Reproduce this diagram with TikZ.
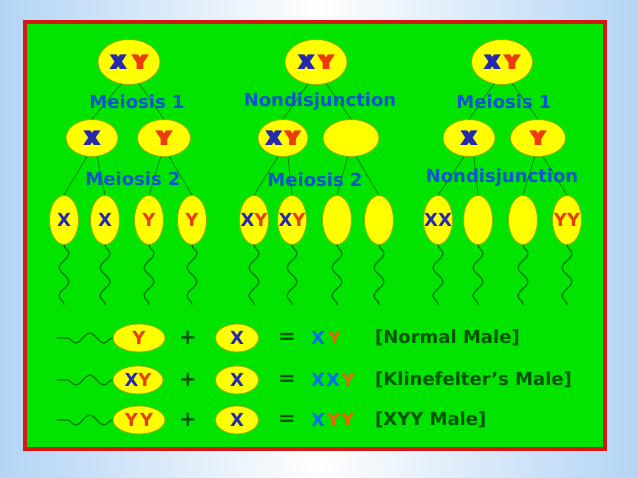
\documentclass[tikz,border=0pt]{standalone}
\usepackage{fontspec}
\setsansfont{DejaVu Sans}
\usetikzlibrary{shapes.geometric,decorations.pathmorphing}
\definecolor{slidegreen}{RGB}{0,228,0}
\definecolor{cellyellow}{RGB}{255,255,0}
\definecolor{celledge}{RGB}{150,170,0}
\definecolor{framered}{RGB}{210,25,20}
\definecolor{stageblue}{RGB}{15,85,205}
\definecolor{chromblue}{RGB}{40,40,175}
\definecolor{chromred}{RGB}{235,60,10}
\definecolor{sumblue}{RGB}{0,110,235}
\definecolor{sumred}{RGB}{235,100,0}
\definecolor{notegreen}{RGB}{0,85,0}
\definecolor{linkgreen}{RGB}{0,125,0}
\definecolor{skyblue}{RGB}{180,212,245}
% single and doubled chromosomes
\newcommand{\cX}{\textcolor{chromblue}{X}}
\newcommand{\cY}{\textcolor{chromred}{Y}}
\newcommand{\dX}{\textcolor{chromblue}{\rlap{X}\kern3pt X}}
\newcommand{\dY}{\textcolor{chromred}{\rlap{Y}\kern3pt Y}}
\begin{document}
\begin{tikzpicture}[x=1pt,y=-1pt,
    cell/.style={ellipse,draw=celledge,fill=cellyellow,line width=0.8pt,inner sep=0pt},
    big/.style={cell,minimum width=62pt,minimum height=45pt},
    half/.style={cell,minimum width=53pt,minimum height=37pt},
    sperm/.style={cell,minimum width=29pt,minimum height=49pt},
    egg/.style={cell,minimum height=28pt},
    chrom/.style={inner sep=0pt,font=\sffamily\bfseries\fontsize{20}{20}\selectfont},
    single/.style={inner sep=0pt,font=\sffamily\bfseries\fontsize{18}{18}\selectfont},
    link/.style={linkgreen,line width=0.7pt},
    tail/.style={linkgreen,line width=1.3pt,decorate,decoration={snake,amplitude=5pt,segment length=28pt}},
    stage/.style={text=stageblue,inner sep=0pt,font=\sffamily\bfseries\fontsize{18}{18}\selectfont},
    sign/.style={text=notegreen,inner sep=0pt,font=\sffamily\bfseries\fontsize{21}{21}\selectfont},
    note/.style={text=notegreen,anchor=west,inner sep=0pt,font=\sffamily\bfseries\fontsize{18}{18}\selectfont}]
    \useasboundingbox (0,0) rectangle (638,478);
    \shade[left color=skyblue,right color=skyblue,middle color=white] (0,0) rectangle (638,478);
    \draw[framered,line width=4pt,fill=slidegreen] (25,22) rectangle (605,449);
    % normal meiosis
    \node[big,label={[chrom]center:\dX\kern4pt\dY}] (L0) at (129,62) {};
    \node[half,minimum width=52pt,label={[chrom]center:\dX}] (L1a) at (92,138) {};
    \node[half,label={[chrom]center:\dY}] (L1b) at (164,138) {};
    \node[sperm,label={[single]center:\cX}] (L2a) at (64,220) {};
    \node[sperm,label={[single]center:\cX}] (L2b) at (105,220) {};
    \node[sperm,label={[single]center:\cY}] (L2c) at (149,220) {};
    \node[sperm,label={[single]center:\cY}] (L2d) at (192,220) {};
    % nondisjunction in meiosis 1
    \node[big,label={[chrom]center:\dX\kern2pt\dY}] (M0) at (316,62) {};
    \node[half,minimum width=50pt,label={[chrom]center:\dX\kern1pt\dY}] (M1a) at (283,138) {};
    \node[half,minimum width=56pt] (M1b) at (351,138) {};
    \node[sperm,label={[single]center:\cX\cY}] (M2a) at (254,220) {};
    \node[sperm,label={[single]center:\cX\cY}] (M2b) at (292,220) {};
    \node[sperm] (M2c) at (337,220) {};
    \node[sperm] (M2d) at (379,220) {};
    % nondisjunction in meiosis 2
    \node[big,minimum width=61pt,label={[chrom]center:\dX\kern2pt\dY}] (R0) at (502,62) {};
    \node[half,minimum width=52pt,label={[chrom]center:\dX}] (R1a) at (469,138) {};
    \node[half,minimum width=55pt,label={[chrom]center:\dY}] (R1b) at (538,138) {};
    \node[sperm,label={[single]center:\cX\cX}] (R2a) at (438,220) {};
    \node[sperm] (R2b) at (478,220) {};
    \node[sperm] (R2c) at (523,220) {};
    \node[sperm,label={[single]center:\cY\cY}] (R2d) at (567,220) {};
    % divisions
    \draw[link] (L0.250) -- (L1a.north);
    \draw[link] (L0.295) -- (L1b.north);
    \draw[link] (L1a.255) -- (L2a.north);
    \draw[link] (L1a.285) -- (L2b.north);
    \draw[link] (L1b.260) -- (L2c.north);
    \draw[link] (L1b.285) -- (L2d.north);
    \draw[link] (M0.250) -- (M1a.north);
    \draw[link] (M0.295) -- (M1b.north);
    \draw[link] (M1a.255) -- (M2a.north);
    \draw[link] (M1a.285) -- (M2b.north);
    \draw[link] (M1b.260) -- (M2c.north);
    \draw[link] (M1b.285) -- (M2d.north);
    \draw[link] (R0.250) -- (R1a.north);
    \draw[link] (R0.295) -- (R1b.north);
    \draw[link] (R1a.255) -- (R2a.north);
    \draw[link] (R1a.285) -- (R2b.north);
    \draw[link] (R1b.260) -- (R2c.north);
    \draw[link] (R1b.285) -- (R2d.north);
    % tails
    \draw[tail] (L2a.south) -- ++(0,60);
    \draw[tail] (L2b.south) -- ++(0,60);
    \draw[tail] (L2c.south) -- ++(0,60);
    \draw[tail] (L2d.south) -- ++(0,60);
    \draw[tail] (M2a.south) -- ++(0,60);
    \draw[tail] (M2b.south) -- ++(0,60);
    \draw[tail] (M2c.south) -- ++(0,60);
    \draw[tail] (M2d.south) -- ++(0,60);
    \draw[tail] (R2a.south) -- ++(0,60);
    \draw[tail] (R2b.south) -- ++(0,60);
    \draw[tail] (R2c.south) -- ++(0,60);
    \draw[tail] (R2d.south) -- ++(0,60);
    % stage names
    \node[stage] (s1) at (137,102) {Meiosis 1};
    \node[stage] (s2) at (133,179) {Meiosis 2};
    \node[stage] (s3) at (320,102) {Nondisjunction};
    \node[stage] (s4) at (315,180) {Meiosis 2};
    \node[stage] (s5) at (504,102) {Meiosis 1};
    \node[stage] (s6) at (502,178) {Nondisjunction};
    % fertilisation
    \node[egg,minimum width=52pt,label={[single]center:\cY}] (E1) at (139,338) {};
    \node[egg,minimum width=50pt,label={[single]center:\cX\cY}] (E2) at (138,380) {};
    \node[egg,minimum width=52pt,label={[single]center:\cY\kern2pt\cY}] (E3) at (139,420) {};
    \draw[tail] (E1.west) -- ++(-56,0);
    \draw[tail] (E2.west) -- ++(-56,0);
    \draw[tail] (E3.west) -- ++(-56,0);
    \node[sign] (p1) at (188,338) {+};
    \node[sign] (p2) at (188,380) {+};
    \node[sign] (p3) at (188,420) {+};
    \node[egg,minimum width=43pt,label={[single]center:\cX}] (F1) at (237,338) {};
    \node[egg,minimum width=43pt,label={[single]center:\cX}] (F2) at (237,380) {};
    \node[egg,minimum width=43pt,label={[single]center:\cX}] (F3) at (237,420) {};
    \node[sign] (q1) at (287,338) {=};
    \node[sign] (q2) at (287,380) {=};
    \node[sign] (q3) at (287,420) {=};
    \node[note] (z1) at (311,338) {\textcolor{sumblue}{X}\kern3pt\textcolor{sumred}{Y}};
    \node[note] (z2) at (311,380) {\textcolor{sumblue}{X}\kern1pt\textcolor{sumblue}{X}\kern2pt\textcolor{sumred}{Y}};
    \node[note] (z3) at (311,420) {\textcolor{sumblue}{X}\kern2pt\textcolor{sumred}{Y}\kern1pt\textcolor{sumred}{Y}};
    \node[note] (t1) at (375,338) {[Normal Male]};
    \node[note] (t2) at (375,380) {[Klinefelter's Male]};
    \node[note] (t3) at (375,420) {[XYY Male]};
\end{tikzpicture}
\end{document}
